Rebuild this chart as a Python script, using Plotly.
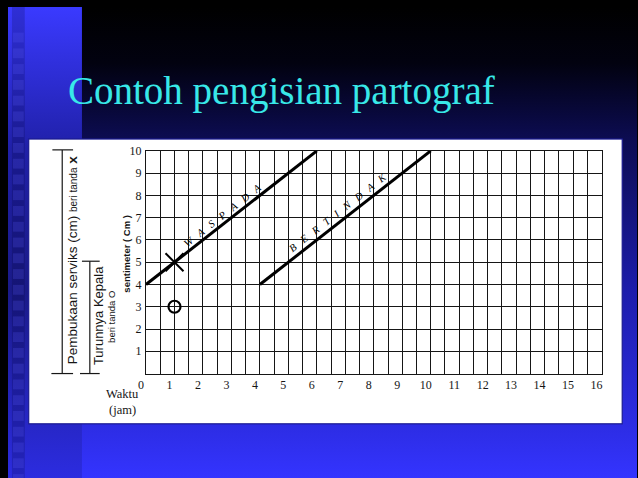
import base64
import plotly.graph_objects as go

# ---------------- data ----------------
hours = list(range(17))
hour_labels = [str(h) for h in hours]
cm_ticks = list(range(1, 11))
cm_labels = [str(c) for c in cm_ticks]

waspada_x = [0, 6]
waspada_y = [4, 10]
bertindak_x = [4, 10]
bertindak_y = [4, 10]

dilatation_time = [1]
dilatation_cm = [5]
descent_time = [1]
descent_cm = [3]

waspada_label = "WASPADA"
bertindak_label = "BERTINDAK"

W, H = 638, 478


def px(x):
    return x / W


def py(y):
    return 1 - y / H


# ---------------- background (slide) ----------------
squares = "".join(
    f'<rect x="5" y="{26 + 16 * k}" width="11" height="10" fill="#5a5aff" fill-opacity="0.22"/>'
    for k in range(29)
)
svg = f'''<svg xmlns="http://www.w3.org/2000/svg" width="{W}" height="{H}" viewBox="0 0 {W} {H}" preserveAspectRatio="none">
<defs>
<linearGradient id="m" x1="0" y1="0" x2="0" y2="1">
<stop offset="0" stop-color="#000000"/>
<stop offset="0.12" stop-color="#020210"/>
<stop offset="0.28" stop-color="#0c0c52"/>
<stop offset="0.6" stop-color="#1d1dab"/>
<stop offset="0.88" stop-color="#2c2ce2"/>
<stop offset="1" stop-color="#3434ff"/>
</linearGradient>
<linearGradient id="s" x1="0" y1="0" x2="0" y2="1">
<stop offset="0" stop-color="#3a3aff"/>
<stop offset="0.3" stop-color="#2020a8"/>
<stop offset="0.6" stop-color="#1a1a88"/>
<stop offset="1" stop-color="#2c2ce0"/>
</linearGradient>
</defs>
<rect width="{W}" height="{H}" fill="url(#m)"/>
<rect width="75" height="{H}" fill="url(#s)"/>
<rect x="4" y="0" width="13" height="{H}" fill="#000020" fill-opacity="0.18"/>
{squares}
<rect x="21" y="134" width="602" height="289" fill="#ffffff" stroke="#1a1a90" stroke-width="1.2"/>
</svg>'''
bg_src = "data:image/svg+xml;base64," + base64.b64encode(svg.encode()).decode()

ink = "#161616"
serif = "Liberation Serif, Times New Roman, serif"
sans = "Liberation Sans, Arial, sans-serif"

fig = go.Figure()

fig.add_trace(go.Scatter(x=waspada_x, y=waspada_y, mode="lines",
                         line=dict(color="#000", width=3), xaxis="x", yaxis="y",
                         hoverinfo="skip", cliponaxis=False))
fig.add_trace(go.Scatter(x=bertindak_x, y=bertindak_y, mode="lines",
                         line=dict(color="#000", width=3), xaxis="x", yaxis="y",
                         hoverinfo="skip", cliponaxis=False))
fig.add_trace(go.Scatter(x=dilatation_time, y=dilatation_cm, mode="markers",
                         marker=dict(symbol="x-thin", size=18, color="#000",
                                     line=dict(color="#000", width=2)),
                         xaxis="x", yaxis="y", cliponaxis=False))
fig.add_trace(go.Scatter(x=descent_time, y=descent_cm, mode="markers",
                         marker=dict(symbol="circle-open", size=12, color="#000",
                                     line=dict(color="#000", width=2.2)),
                         xaxis="x", yaxis="y", cliponaxis=False))

spacer = "\u00a0\u00a0\u00a0"
annotations = []
annotations.append(dict(x=2.68, y=7.1, xref="x", yref="y", showarrow=False,
                        xanchor="center", yanchor="middle",
                        text=spacer.join(waspada_label), textangle=-38,
                        font=dict(family=serif, size=10.5, color="#000", style="italic")))
annotations.append(dict(x=6.75, y=7.21, xref="x", yref="y", showarrow=False,
                        xanchor="center", yanchor="middle",
                        text=spacer.join(bertindak_label), textangle=-38,
                        font=dict(family=serif, size=10.5, color="#000", style="italic")))

annotations.append(dict(x=px(59), y=py(85), xref="paper", yref="paper",
                        xanchor="left", yanchor="middle", showarrow=False,
                        text="Contoh pengisian partograf",
                        font=dict(family=serif, size=39, color="#38e8e8")))


def side_text(text, x, y, size, family=sans, angle=-90):
    annotations.append(dict(x=px(x), y=py(y), xref="paper", yref="paper",
                            xanchor="center", yanchor="middle",
                            showarrow=False, textangle=angle, text=text,
                            font=dict(family=family, size=size, color=ink)))


side_text("Pembukaan serviks (cm) <span style='font-size:10px'>beri tanda</span> <b>x</b>",
          65, 257, 13.5)
side_text("Turunnya Kepala", 92, 313, 13)
side_text("beri tanda O", 105, 315, 9.5)
side_text("<b>sentimeter ( Cm )</b>", 120, 250, 9.5)
side_text("Waktu", 116, 393, 12.5, serif, 0)
side_text("(jam)", 116, 409, 12.5, serif, 0)

shapes = []
def seg(x0, y0, x1, y1, w=1.2):
    shapes.append(dict(type="line", xref="paper", yref="paper",
                       x0=px(x0), y0=py(y0), x1=px(x1), y1=py(y1),
                       line=dict(color=ink, width=w)))

seg(55, 145, 55, 372)
seg(45, 145, 66, 145)
seg(44, 372, 66, 372)
seg(83, 258, 83, 372)
seg(75, 258, 93, 258)
seg(73, 372, 93, 372)

xdom = [px(140), px(602)]

fig.update_layout(
    width=W, height=H,
    margin=dict(l=0, r=0, t=0, b=0),
    paper_bgcolor="#000000",
    plot_bgcolor="rgba(0,0,0,0)",
    showlegend=False,
    images=[dict(source=bg_src, xref="paper", yref="paper", x=0, y=1,
                 sizex=1, sizey=1, sizing="stretch", layer="below",
                 xanchor="left", yanchor="top")],
    annotations=annotations,
    shapes=shapes,
    xaxis=dict(domain=xdom, range=[0, 16], anchor="y",
               tickmode="array", tickvals=hours, ticktext=hour_labels,
               ticks="", showgrid=True, gridcolor=ink, gridwidth=1.1,
               minor=dict(tick0=0, dtick=0.5, showgrid=True, gridcolor=ink, gridwidth=1.1, ticks=""),
               showline=True, mirror=True, linecolor=ink, linewidth=1.3,
               zeroline=False, ticklabelshift=-5, ticklabelstandoff=0,
               tickfont=dict(family=serif, size=12, color=ink), fixedrange=True),
    yaxis=dict(domain=[py(372), py(146)], range=[0, 10], anchor="x",
               tickmode="array", tickvals=cm_ticks, ticktext=cm_labels,
               ticks="", showgrid=True, gridcolor=ink, gridwidth=1.1,
               showline=True, mirror=True, linecolor=ink, linewidth=1.3,
               zeroline=False, ticklabelstandoff=1,
               tickfont=dict(family=serif, size=12, color=ink), fixedrange=True),
    xaxis2=dict(domain=xdom, range=[0, 16], anchor="y2", matches="x",
                tickmode="array", tickvals=hours, showticklabels=False,
                ticks="", showgrid=True, gridcolor=ink, gridwidth=1.1,
                showline=True, mirror=True, linecolor=ink, linewidth=1.3,
                zeroline=False, fixedrange=True),
    yaxis2=dict(domain=[py(418), py(372)], range=[0, 46], anchor="x2",
                tickmode="array", tickvals=[28], showticklabels=False,
                ticks="", showgrid=True, gridcolor=ink, gridwidth=1.1,
                showline=True, mirror=True, linecolor=ink, linewidth=1.3,
                zeroline=False, fixedrange=True),
)

fig.write_html(
    "out.html",
    config=dict(displayModeBar=False),
    post_script="document.body.style.margin='0';document.body.style.padding='0';"
                "document.documentElement.style.overflow='hidden';",
)
